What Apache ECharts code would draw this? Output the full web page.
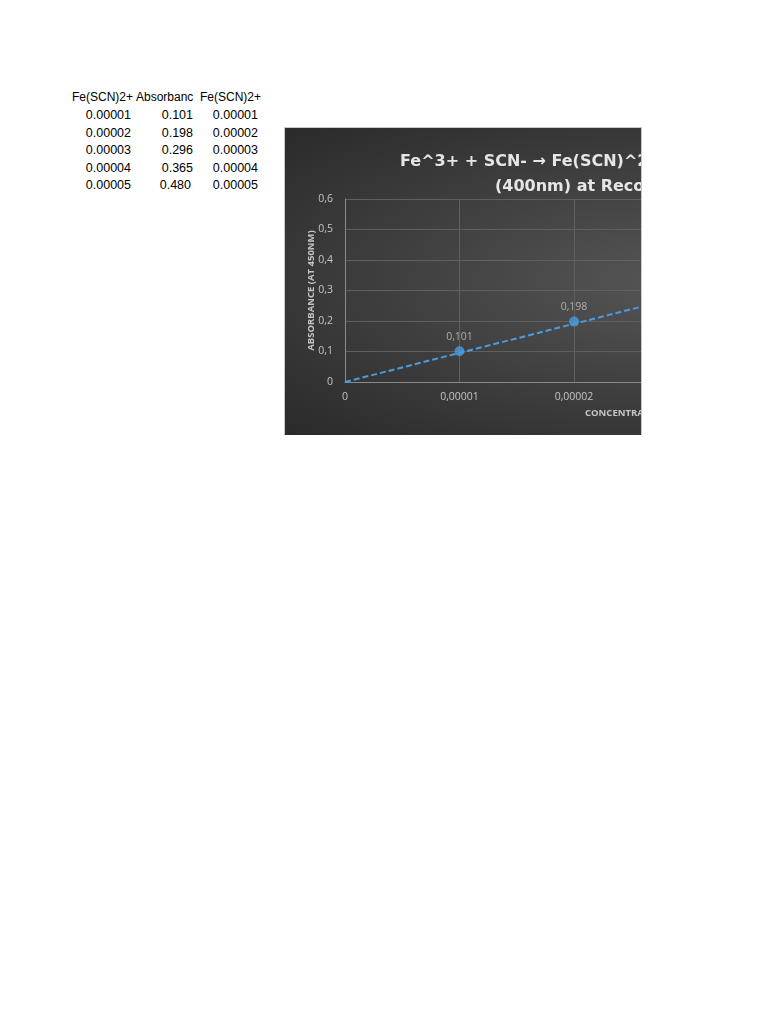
<!DOCTYPE html>
<html>
<head>
<meta charset="utf-8">
<script src="https://cdn.jsdelivr.net/npm/echarts@6/dist/echarts.min.js"></script>
<style>
  html, body { margin: 0; padding: 0; background: #fff; width: 768px; height: 1024px; overflow: hidden; }
  #table { position: absolute; left: 0; top: 0; width: 768px; height: 300px; font-family: "Liberation Sans", "Noto Sans", sans-serif; font-size: 12.5px; color: #000; }
  .cell { position: absolute; white-space: nowrap; line-height: 16px; }
  .head { font-size: 12px; }
  #wrap { position: absolute; left: 284px; top: 127px; width: 358px; height: 308px; overflow: hidden; box-sizing: border-box; border: 1px solid #c8c8c8; border-bottom: none; }
  #chart { position: absolute; left: -1px; top: -1px; width: 775px; height: 308px;
    background: radial-gradient(ellipse farthest-corner at 50% 50%, #555555 0%, #2a2a2a 100%); }
</style>
</head>
<body>
<div id="table"></div>
<div id="wrap"><div id="chart"></div></div>
<script>
// ---- data ----
var headers = ["Fe(SCN)2+", "Absorbanc", "Fe(SCN)2+"];
var concentrations = [0.00001, 0.00002, 0.00003, 0.00004, 0.00005];
var absorbance = [0.101, 0.198, 0.296, 0.365, 0.480];
var trendX = [0, 0.00005];
var trendY = [0, 0.477];
var titleLine1 = "Fe^3+ + SCN- \u2192 Fe(SCN)^2+ Standard Curve: Absorbance";
var titleLine2 = "(400nm) at Recorded Concentrations";
var xAxisName = "CONCENTRATION OF FE(SCN)2+ (M)";
var yAxisName = "ABSORBANCE (AT 450NM)";

// ---- spreadsheet cells ----
var tbl = document.getElementById('table');
function addCell(text, x, y, align, cls) {
  var d = document.createElement('div');
  d.className = 'cell' + (cls ? ' ' + cls : '');
  d.textContent = text;
  if (align === 'right') { d.style.right = (768 - x) + 'px'; } else { d.style.left = x + 'px'; }
  d.style.top = y + 'px';
  tbl.appendChild(d);
}
var headX = [72, 136, 200];
headers.forEach(function (h, i) { addCell(h, headX[i], 89, 'left', 'head'); });
var rowY0 = 107, rowH = 17.5;
concentrations.forEach(function (c, i) {
  var y = rowY0 + i * rowH;
  addCell(c.toFixed(5), 131, y, 'right');
  addCell(absorbance[i].toFixed(3), i === 4 ? 191 : 193, y, 'right');
  addCell(c.toFixed(5), 258, y, 'right');
});

// ---- chart ----
var chart = echarts.init(document.getElementById('chart'), null, { renderer: 'canvas' });
var fmtComma = function (v) { return String(v).replace('.', ','); };
var lbl = '#c4c4c4';
var titleStyle = { color: '#e6e6e6', fontSize: 16, fontWeight: 'bold', fontFamily: 'DejaVu Sans' };
chart.setOption({
  backgroundColor: 'transparent',
  animation: false,
  title: [
    { text: titleLine1, left: 111, top: 22, textStyle: titleStyle },
    { text: titleLine2, left: 206, top: 47, textStyle: titleStyle }
  ],
  grid: { left: 61, right: 27, top: 72, bottom: 53, containLabel: false },
  xAxis: {
    type: 'value', min: 0, max: 0.00006, interval: 0.00001,
    axisLine: { show: true, lineStyle: { color: '#8a8a8a', width: 1 } },
    axisTick: { show: false },
    splitLine: { show: true, lineStyle: { color: '#606060', width: 1 } },
    axisLabel: { color: lbl, fontSize: 10.5, margin: 10, fontFamily: 'Open Sans',
      formatter: function (v) { return v === 0 ? '0' : fmtComma(v.toFixed(5)); } }
  },
  yAxis: {
    type: 'value', min: 0, max: 0.6, interval: 0.1,
    name: yAxisName, nameLocation: 'middle', nameGap: 29, nameMoveOverlap: false,
    nameTextStyle: { color: lbl, fontSize: 9.5, fontWeight: 'bold', fontFamily: 'Open Sans' },
    axisLine: { show: true, lineStyle: { color: '#8a8a8a', width: 1 } },
    axisTick: { show: false },
    splitLine: { show: true, lineStyle: { color: '#606060', width: 1 } },
    axisLabel: { color: lbl, fontSize: 10.5, margin: 12, fontFamily: 'Open Sans',
      formatter: function (v) { return v === 0 ? '0' : fmtComma(Math.round(v * 10) / 10); } }
  },
  graphic: [
    { type: 'text', left: 301, top: 281, style: { text: xAxisName, fill: lbl, font: 'bold 9.5px "Open Sans"' } }
  ],
  series: [
    {
      type: 'line', name: 'trend', data: trendX.map(function (x, i) { return [x, trendY[i]]; }),
      showSymbol: false, symbol: 'none', silent: true, z: 2,
      lineStyle: { color: '#4a9ce0', width: 2, type: [6, 3] }
    },
    {
      type: 'scatter', name: 'Absorbance', z: 3,
      data: concentrations.map(function (c, i) { return [c, absorbance[i]]; }),
      symbol: 'circle', symbolSize: 10,
      itemStyle: { color: '#4a9ce0' },
      label: { show: true, position: 'top', distance: 4, color: lbl, fontSize: 10.5, fontFamily: 'Open Sans',
        formatter: function (p) { return fmtComma(p.value[1].toFixed(3)); } }
    }
  ]
});
</script>
</body>
</html>
